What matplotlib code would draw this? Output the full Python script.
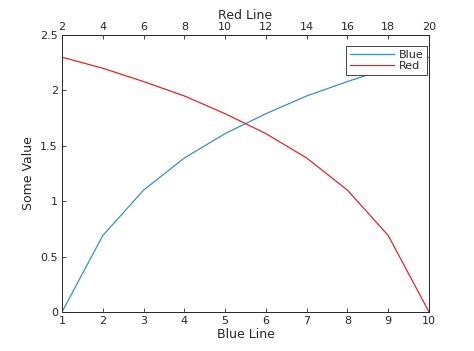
import matplotlib
matplotlib.use("Agg")
import matplotlib.pyplot as plt

# values
blue_x = [1, 2, 3, 4, 5, 6, 7, 8, 9, 10]
blue_y = [0, 0.69, 1.10, 1.39, 1.61, 1.79, 1.95, 2.08, 2.20, 2.30]
red_x = [2, 4, 6, 8, 10, 12, 14, 16, 18, 20]
red_y = [2.30, 2.20, 2.08, 1.95, 1.79, 1.61, 1.39, 1.10, 0.69, 0]

dark = '#262626'
plt.rcParams['font.size'] = 8
plt.rcParams['text.color'] = dark
plt.rcParams['axes.labelcolor'] = dark
plt.rcParams['xtick.color'] = dark
plt.rcParams['ytick.color'] = dark

fig = plt.figure(figsize=(4.74, 3.51), dpi=100)
ax = fig.add_axes([0.1308, 0.1111, 0.7743, 0.7892])
l1, = ax.plot(blue_x, blue_y, color='#3a8fc7', lw=0.9, label='Blue')
ax.set_xlim(1, 10)
ax.set_ylim(0, 2.5)
ax.set_xticks(range(1, 11))
ax.set_yticks([0, 0.5, 1, 1.5, 2, 2.5])
ax.set_yticklabels(['0', '0.5', '1', '1.5', '2', '2.5'])
ax.set_xlabel('Blue Line', fontsize=9, labelpad=1)
ax.set_ylabel('Some Value', fontsize=9, labelpad=4)
ax.tick_params(direction='in', length=3, width=0.6, pad=3)

ax2 = ax.twiny()
l2, = ax2.plot(red_x, red_y, color='#e3242b', lw=0.9, label='Red')
ax2.set_xlim(2, 20)
ax2.set_xticks(range(2, 21, 2))
ax2.set_xlabel('Red Line', fontsize=9, labelpad=2)
ax2.tick_params(direction='in', length=3, width=0.6, pad=2)

for a in (ax, ax2):
    for s in a.spines.values():
        s.set_color(dark)
        s.set_linewidth(0.6)

leg = ax2.legend([l1, l2], ['Blue', 'Red'], loc='upper right',
                 bbox_to_anchor=(0.998, 0.965), fancybox=False,
                 edgecolor=dark, framealpha=1, fontsize=8,
                 handlelength=4.0, borderpad=0.35, labelspacing=0.1,
                 handletextpad=0.4, borderaxespad=0.1)
leg.get_frame().set_linewidth(0.6)

fig.savefig('out.png', dpi=100)
